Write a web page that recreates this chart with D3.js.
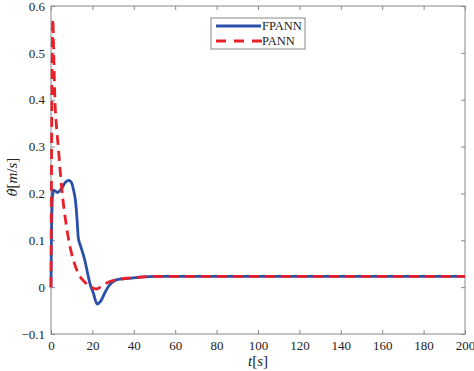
<!DOCTYPE html>
<html><head><meta charset="utf-8">
<script src="https://cdn.jsdelivr.net/npm/d3@7"></script>
<style>body{margin:0;background:#fff;}svg{display:block;font-family:"Liberation Serif","Times New Roman",serif;}</style>
</head><body>
<svg id="c" width="474" height="371"></svg>
<script>
const xTicks = [0,20,40,60,80,100,120,140,160,180,200];
const yTicks = [-0.1,0,0.1,0.2,0.3,0.4,0.5,0.6];
const seriesNames = ["FPANN","PANN"];
const fpannT = [0,0.2,0.5,1.0,2,3.2,5,7,8.7,10,11,11.8,12.5,13.2,14.5,16.3,18,18.8,20.4,22.3,24,26,28,30,32,36,40,45,50,60,100,150,200];
const fpannV = [0,0.10,0.17,0.207,0.205,0.202,0.21,0.224,0.228,0.222,0.205,0.185,0.15,0.105,0.085,0.058,0.023,0.008,-0.012,-0.036,-0.030,-0.012,0.003,0.012,0.016,0.018,0.020,0.022,0.023,0.023,0.023,0.023,0.023];
const pannT = [0,0.3,0.6,0.9,1.3,1.9,2.7,3.5,4.3,5.1,6.2,7.5,9,10.8,12.5,14,16.5,18.8,22,25,28.4,32,36.5,42,50,60,100,150,200];
const pannV = [0,0.3,0.5,0.572,0.50,0.40,0.34,0.30,0.255,0.214,0.17,0.129,0.09,0.058,0.036,0.023,0.01,0.001,-0.004,0.004,0.012,0.016,0.019,0.021,0.023,0.023,0.023,0.023,0.023];

const svg = d3.select("#c");
const L=51, R=465, T=6, B=334;
const x = d3.scaleLinear().domain([0,200]).range([L,R]);
const y = d3.scaleLinear().domain([-0.1,0.6]).range([B,T]);
const axisCol = "#888";
const g = svg.append("g");

g.append("rect").attr("x",L).attr("y",T).attr("width",R-L).attr("height",B-T)
 .attr("fill","none").attr("stroke",axisCol).attr("stroke-width",1);

const fmt = d => d===0 ? "0" : d3.format(".1f")(d);
const xb = g.append("g").attr("transform",`translate(0,${B})`).call(d3.axisBottom(x).tickValues(xTicks).tickSize(-4).tickPadding(7).tickFormat(d3.format("d")));
const xt = g.append("g").attr("transform",`translate(0,${T})`).call(d3.axisTop(x).tickValues(xTicks).tickSize(-4).tickFormat(""));
const yl = g.append("g").attr("transform",`translate(${L},0)`).call(d3.axisLeft(y).tickValues(yTicks).tickSize(-4).tickPadding(6).tickFormat(fmt));
const yr = g.append("g").attr("transform",`translate(${R},0)`).call(d3.axisRight(y).tickValues(yTicks).tickSize(-4).tickFormat(""));
[xb,xt,yl,yr].forEach(a=>{
  a.select(".domain").remove();
  a.selectAll(".tick line").attr("stroke",axisCol);
  a.selectAll(".tick text").attr("fill","#222").style("font-size","13px").style("font-family","Liberation Serif");
});

const line = d3.line().x(d=>x(d[0])).y(d=>y(d[1])).curve(d3.curveMonotoneX);
const fp = fpannT.map((t,i)=>[t,fpannV[i]]);
const pa = pannT.map((t,i)=>[t,pannV[i]]);
g.append("path").datum(fp).attr("d",line).attr("fill","none").attr("stroke","#2a4fa8").attr("stroke-width",2.8);
g.append("path").datum(pa).attr("d",line).attr("fill","none").attr("stroke","#e8202a").attr("stroke-width",2.8).attr("stroke-dasharray","10,6");

const lg = g.append("g");
lg.append("rect").attr("x",211).attr("y",18).attr("width",94).attr("height",31).attr("fill","#fff").attr("stroke",axisCol);
lg.append("line").attr("x1",216).attr("x2",261).attr("y1",26).attr("y2",26).attr("stroke","#2a4fa8").attr("stroke-width",2.8);
lg.append("line").attr("x1",216).attr("x2",262).attr("y1",41).attr("y2",41).attr("stroke","#e8202a").attr("stroke-width",2.8).attr("stroke-dasharray","10,8");
lg.append("text").attr("x",262).attr("y",30).text(seriesNames[0]).style("font-size","12.5px").attr("fill","#222");
lg.append("text").attr("x",262).attr("y",45).text(seriesNames[1]).style("font-size","12.5px").attr("fill","#222");

const xlab = svg.append("text").attr("x",258).attr("y",366).attr("text-anchor","middle").style("font-size","15px").attr("fill","#222");
xlab.append("tspan").style("font-style","italic").text("t");
xlab.append("tspan").text("[");
xlab.append("tspan").style("font-style","italic").text("s");
xlab.append("tspan").text("]");
const ylab = svg.append("text").attr("transform","translate(17,177) rotate(-90)").attr("text-anchor","middle").style("font-size","15px").attr("fill","#222");
ylab.append("tspan").style("font-style","italic").style("font-family","DejaVu Serif").style("font-size","13px").text("\u03B8\u0307");
ylab.append("tspan").text("[");
ylab.append("tspan").style("font-style","italic").text("m");
ylab.append("tspan").text("/");
ylab.append("tspan").style("font-style","italic").text("s");
ylab.append("tspan").text("]");
</script>
</body></html>
